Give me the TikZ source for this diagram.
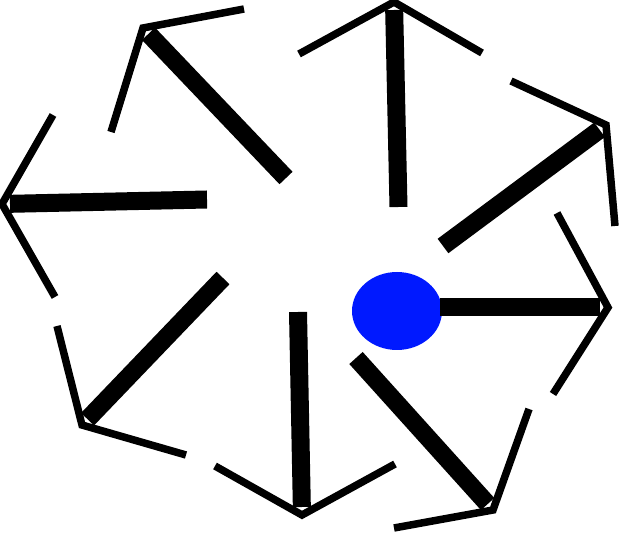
\documentclass[tikz,border=0pt]{standalone}
\usetikzlibrary{calc,shapes.geometric}
\definecolor{dotblue}{RGB}{0,25,255}
\tikzset{
  bar/.style={line width=18pt, line cap=butt},
  arm/.style={line width=7.5pt, line join=miter, miter limit=20, line cap=butt},
  hub/.style={ellipse, fill=dotblue, inner sep=0pt, minimum width=90pt, minimum height=78pt}
}
\begin{document}
\begin{tikzpicture}[x=1pt,y=-1pt]
\useasboundingbox (0,0) rectangle (622,534);
% hub
\node[hub] (hub) at (397,311) {};
% arrows: start, vertex, arm ends
\foreach \n/\sx/\sy/\vx/\vy/\ax/\ay/\bx/\by in {
  r/440/307.5/608/307.5/557/213/553/394,
  ur/443/246/606/125/511/81/615/226,
  u/398.5/207/394/2/299/54/482/53,
  ul/286/178/143/28/244/9/111/132,
  l/207/199.5/2/204/53/115/55/297,
  dl/223/278/82/425/57/326/186/455,
  d/298/312/302/515/215/466/395/464,
  dr/356/358/493/510/529/409/394/528}{
  \coordinate (s\n) at (\sx,\sy);
  \coordinate (v\n) at (\vx,\vy);
  \coordinate (a\n) at (\ax,\ay);
  \coordinate (b\n) at (\bx,\by);
  \draw[arm] (a\n) -- (v\n) -- (b\n);
  \draw[bar] (s\n) -- ($(v\n)!8pt!(s\n)$);
}
\end{tikzpicture}
\end{document}
